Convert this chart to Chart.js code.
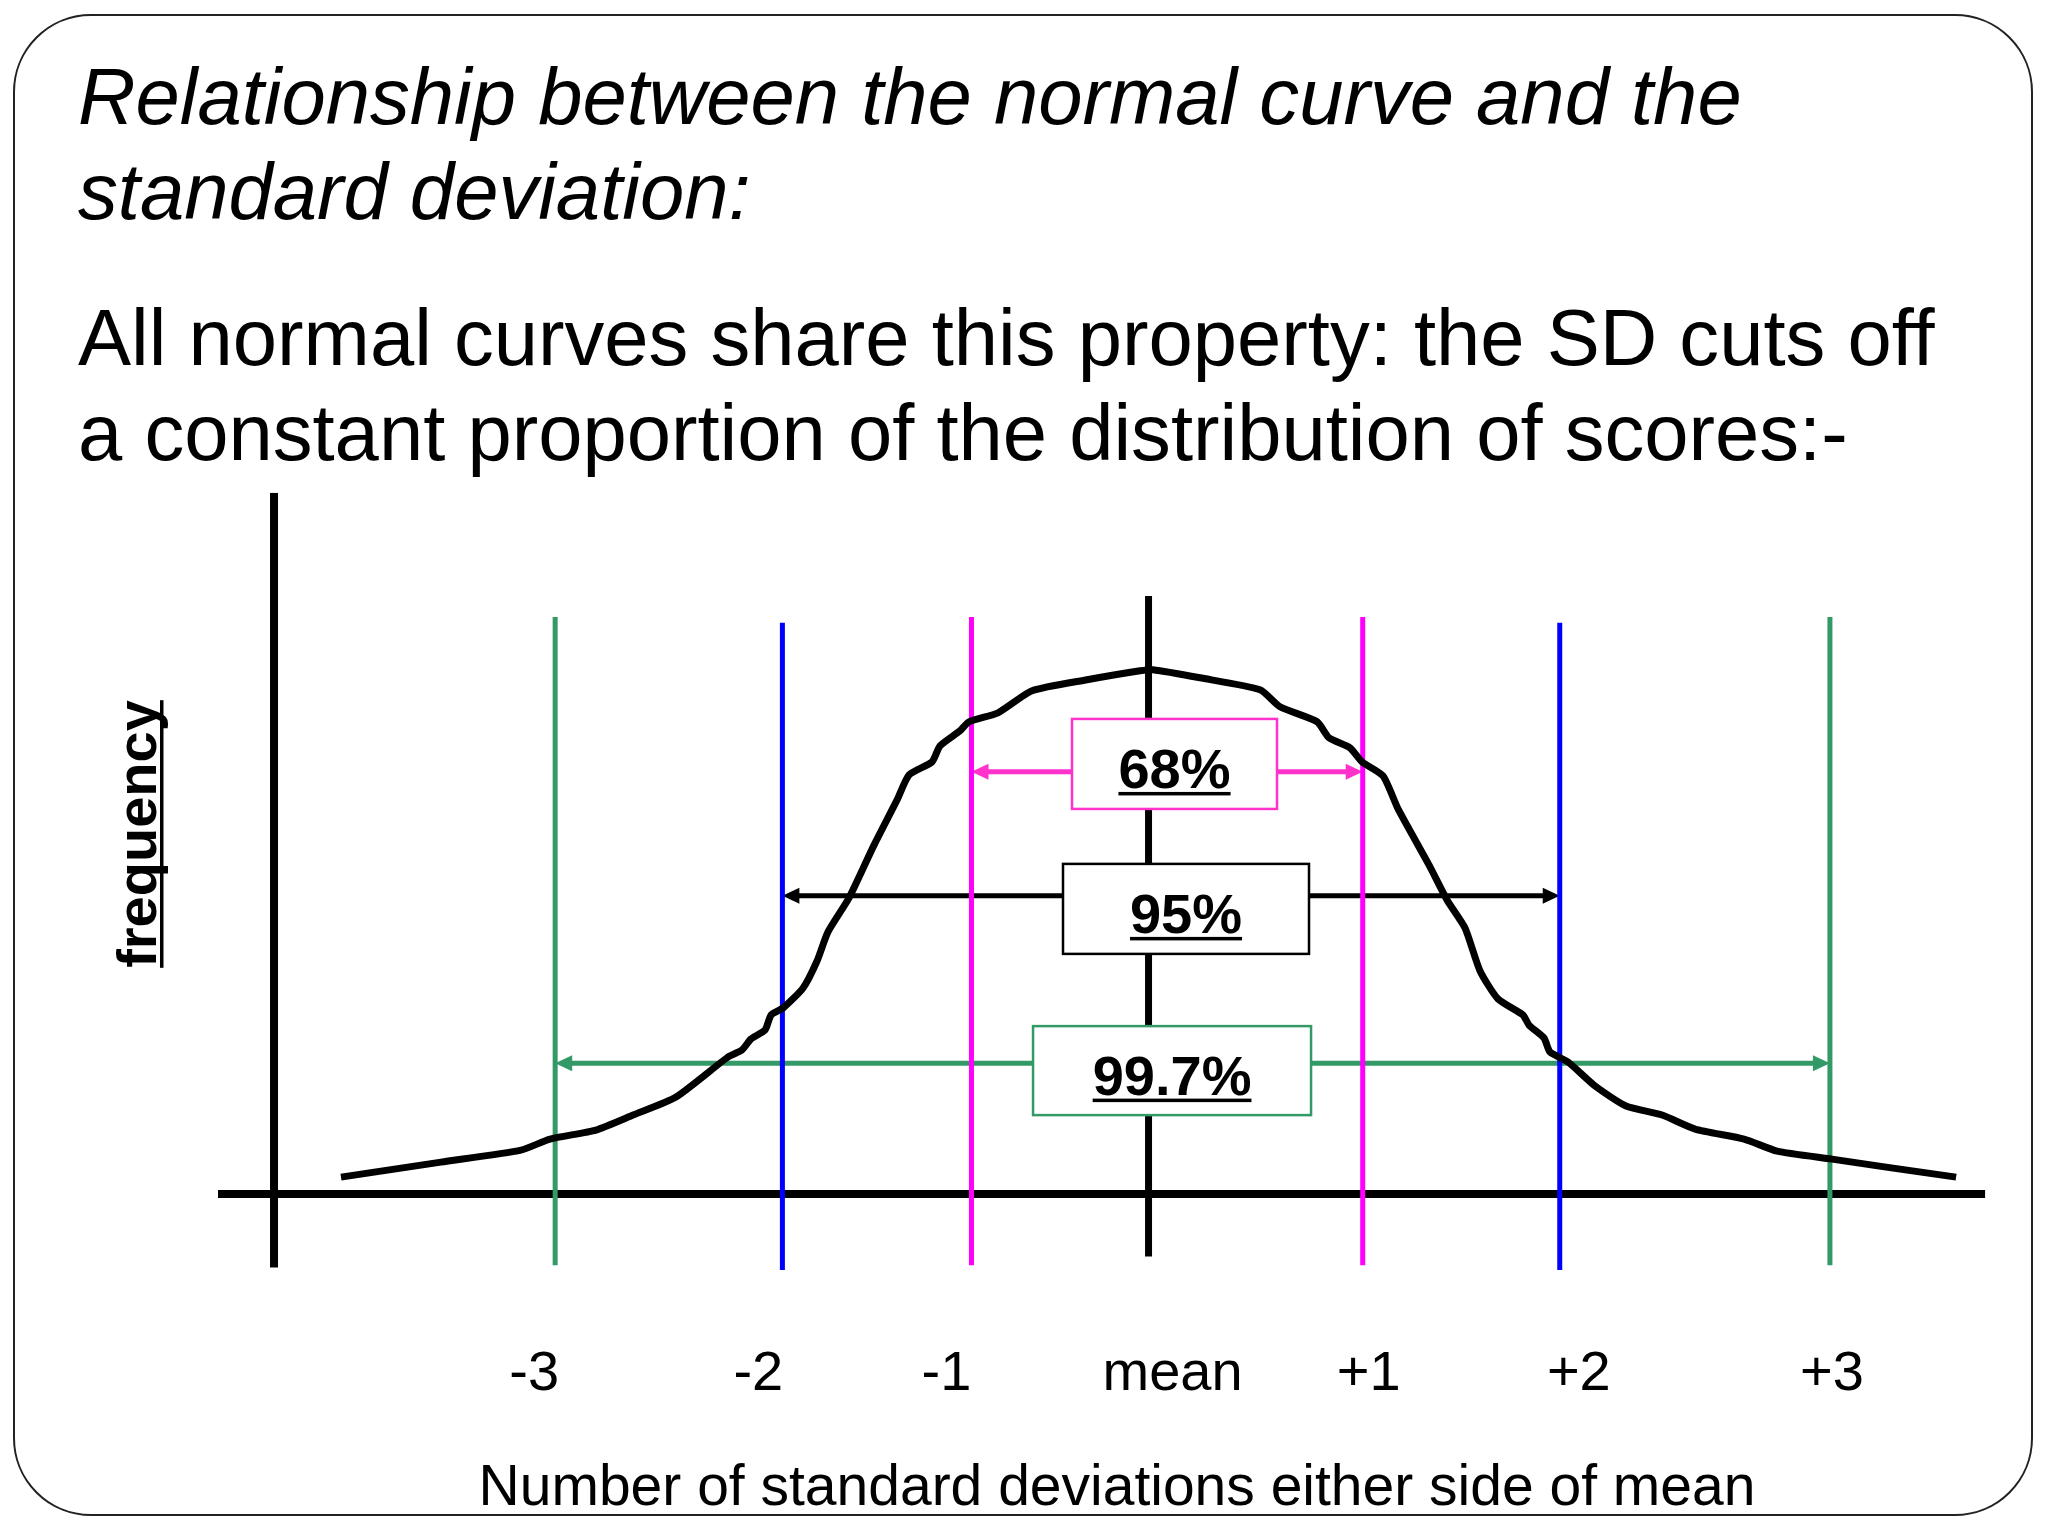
<!DOCTYPE html>
<html>
<head>
<meta charset="utf-8">
<script src="https://cdn.jsdelivr.net/npm/chart.js@4.4.1/dist/chart.umd.min.js"></script>
<style>
  html, body { margin: 0; padding: 0; background: #fff; }
  #wrap { position: relative; width: 2048px; height: 1536px; }
  #frame { position: absolute; left: 13px; top: 14px; width: 2020px; height: 1502px;
           box-sizing: border-box; border: 2px solid #222; border-radius: 78px; }
  #chart { position: absolute; left: 0; top: 0; }
</style>
</head>
<body>
<div id="wrap">
  <div id="frame"></div>
  <canvas id="chart" width="2048" height="1536"></canvas>
</div>
<script>
// hand drawn curve
// x: position along the x axis line (0 = left end, 100 = right end), y: frequency (peak = 100)
var curveX = [6.96, 12.62, 17.15, 18.79, 21.39, 23.49, 25.92, 28.86, 29.65, 30.16, 30.96, 31.30, 31.98,
  33.11, 33.90, 34.52, 35.71, 37.13, 38.43, 39.11, 40.41, 40.86, 41.99, 42.50, 44.14, 46.07, 49.18, 52.18,
  52.91, 55.57, 58.97, 60.10, 62.20, 62.87, 64.06, 64.74, 65.93, 66.78, 68.53, 69.55, 70.57, 71.42, 72.44,
  73.85, 74.19, 75.04, 75.38, 76.40, 77.93, 79.68, 81.72, 83.59, 86.36, 88.23, 91.34, 94.40, 98.36];
var curveY = [3.25, 6.12, 8.41, 10.52, 12.24, 15.11, 18.55, 26.20, 27.53, 29.64, 31.36, 34.23, 35.56,
  39.39, 44.55, 50.10, 56.60, 66.73, 75.33, 80.11, 82.60, 85.66, 88.53, 90.25, 91.97, 96.18, 98.28, 100.0,
  100.2, 98.66, 96.37, 93.12, 90.25, 87.19, 85.28, 82.60, 79.92, 73.61, 62.91, 56.21, 50.86, 42.64, 37.28,
  34.23, 32.31, 29.83, 27.15, 25.24, 20.65, 16.83, 15.11, 12.43, 10.52, 8.22, 6.69, 5.16, 3.25];

// standard deviation marker lines
var sdNames = ['-3', '-2', '-1', 'mean', '+1', '+2', '+3'];
var sdPos = [19.08, 31.94, 42.64, 52.66, 64.78, 75.93, 91.22];
var sdTop = [110.3, 109.2, 110.3, 114.3, 110.3, 109.2, 110.3];
var sdBottom = [-13.6, -14.5, -13.6, -11.9, -13.6, -14.5, -13.6];

// tick labels under the axis
var tickPos = [17.89, 30.58, 41.22, 54.02, 65.12, 77.01, 91.34];
var tickLabels = ['-3', '-2', '-1', 'mean', '+1', '+2', '+3'];

// proportion bands: arrow from sd line to sd line
var bandLabels = ['68%', '95%', '99.7%'];
var bandFrom = [2, 1, 0];
var bandTo = [4, 5, 6];
var bandLevel = [80.7, 57.0, 25.0];

// axis lines
var xAxisFrom = 0, xAxisTo = 100;
var yAxisAt = 3.17, yAxisFrom = -14.0, yAxisTo = 134;

var FONT = "'Liberation Sans', Arial, Helvetica, sans-serif";
var sdColors = ['#339966', '#0000ff', '#ff00ff', '#000000', '#ff00ff', '#0000ff', '#339966'];
var sdWidths = [5, 5, 5, 7, 5, 5, 5];
var bandColors = ['#ff33cc', '#000000', '#339966'];
var boxLayout = [
  { cx: 54.13, cy: 82.2, w: 205, h: 90 },
  { cx: 54.78, cy: 54.5, w: 246, h: 90 },
  { cx: 53.99, cy: 23.6, w: 278, h: 89 }
];

var datasets = [];
datasets.push({
  data: curveX.map(function (x, i) { return { x: x, y: curveY[i] }; }),
  borderColor: '#000', borderWidth: 7, tension: 0.2, pointRadius: 0,
  borderJoinStyle: 'round', borderCapStyle: 'butt', order: 0
});
for (var i = 0; i < sdPos.length; i++) {
  datasets.push({
    label: sdNames[i],
    data: [{ x: sdPos[i], y: sdBottom[i] }, { x: sdPos[i], y: sdTop[i] }],
    borderColor: sdColors[i], borderWidth: sdWidths[i], pointRadius: 0, order: 1
  });
}
datasets.push({
  data: [{ x: xAxisFrom, y: 0 }, { x: xAxisTo, y: 0 }],
  borderColor: '#000', borderWidth: 8, pointRadius: 0, order: 2
});
datasets.push({
  data: [{ x: yAxisAt, y: yAxisFrom }, { x: yAxisAt, y: yAxisTo }],
  borderColor: '#000', borderWidth: 8, pointRadius: 0, order: 2
});

function drawArrow(ctx, x1, x2, y, color) {
  var head = 17, half = 8;
  ctx.strokeStyle = color;
  ctx.fillStyle = color;
  ctx.lineWidth = 5;
  ctx.beginPath();
  ctx.moveTo(x1 + head - 2, y);
  ctx.lineTo(x2 - head + 2, y);
  ctx.stroke();
  ctx.beginPath();
  ctx.moveTo(x1, y); ctx.lineTo(x1 + head, y - half); ctx.lineTo(x1 + head, y + half); ctx.closePath();
  ctx.fill();
  ctx.beginPath();
  ctx.moveTo(x2, y); ctx.lineTo(x2 - head, y - half); ctx.lineTo(x2 - head, y + half); ctx.closePath();
  ctx.fill();
}

function underlined(ctx, text, x, y, font) {
  ctx.font = font;
  ctx.textAlign = 'center';
  ctx.textBaseline = 'alphabetic';
  ctx.fillText(text, x, y);
  var w = ctx.measureText(text).width;
  ctx.fillRect(x - w / 2, y + 4, w, 3.5);
}

var extras = {
  id: 'extras',
  beforeDatasetsDraw: function (chart) {
    var ctx = chart.ctx, xs = chart.scales.x, ys = chart.scales.y;
    ctx.save();
    for (var i = 0; i < bandLabels.length; i++) {
      drawArrow(ctx, xs.getPixelForValue(sdPos[bandFrom[i]]), xs.getPixelForValue(sdPos[bandTo[i]]),
        ys.getPixelForValue(bandLevel[i]), bandColors[i]);
    }
    ctx.restore();
  },
  afterDatasetsDraw: function (chart) {
    var ctx = chart.ctx, xs = chart.scales.x, ys = chart.scales.y;
    ctx.save();
    for (var i = 0; i < bandLabels.length; i++) {
      var b = boxLayout[i];
      var cx = xs.getPixelForValue(b.cx), cy = ys.getPixelForValue(b.cy);
      ctx.fillStyle = '#fff';
      ctx.fillRect(cx - b.w / 2, cy - b.h / 2, b.w, b.h);
      ctx.strokeStyle = bandColors[i];
      ctx.lineWidth = 2.5;
      ctx.strokeRect(cx - b.w / 2, cy - b.h / 2, b.w, b.h);
      ctx.fillStyle = '#000';
      underlined(ctx, bandLabels[i], cx, cy + 24, 'bold 56px ' + FONT);
    }
    ctx.restore();
  },
  afterDraw: function (chart) {
    var ctx = chart.ctx, area = chart.chartArea;
    ctx.save();
    ctx.translate(area.left - 62, 834);
    ctx.rotate(-Math.PI / 2);
    ctx.fillStyle = '#000';
    underlined(ctx, 'frequency', 0, 0, 'bold 56px ' + FONT);
    ctx.restore();
  }
};

Chart.defaults.font.family = FONT;
Chart.defaults.color = '#000';

new Chart(document.getElementById('chart'), {
  type: 'line',
  data: { datasets: datasets },
  plugins: [extras],
  options: {
    responsive: false,
    devicePixelRatio: 1,
    animation: false,
    layout: { padding: { left: 78, right: 32, top: 0, bottom: 0 } },
    plugins: {
      legend: { display: false },
      tooltip: { enabled: false },
      title: {
        display: true, align: 'start', color: '#000',
        text: ['Relationship between the normal curve and the', 'standard deviation:'],
        font: { size: 79.6, style: 'italic', weight: 'normal', lineHeight: 1.193 },
        padding: { top: 54, bottom: 52 }
      },
      subtitle: {
        display: true, align: 'start', color: '#000',
        text: ['All normal curves share this property: the SD cuts off',
               'a constant proportion of the distribution of scores:-'],
        font: { size: 79.6, weight: 'normal', lineHeight: 1.193 },
        padding: { top: 0, bottom: 7 }
      }
    },
    scales: {
      x: {
        type: 'linear', min: 0, max: 101.75,
        grid: { display: false, drawTicks: false },
        border: { display: false },
        afterBuildTicks: function (s) { s.ticks = tickPos.map(function (v) { return { value: v }; }); },
        afterFit: function (s) { s.height = 266; },
        ticks: {
          autoSkip: false, maxRotation: 0, padding: 71,
          font: { size: 56, lineHeight: 1.2 },
          callback: function (v, i) { return tickLabels[i]; }
        },
        title: {
          display: true, text: 'Number of standard deviations either side of mean',
          font: { size: 57, lineHeight: 1.2 }, padding: { top: 0, bottom: 13 }
        }
      },
      y: {
        type: 'linear', min: -14.5, max: 134,
        grid: { display: false, drawTicks: false },
        border: { display: false },
        ticks: { display: false },
        afterFit: function (s) { s.width = 140; }
      }
    }
  }
});
</script>
</body>
</html>
